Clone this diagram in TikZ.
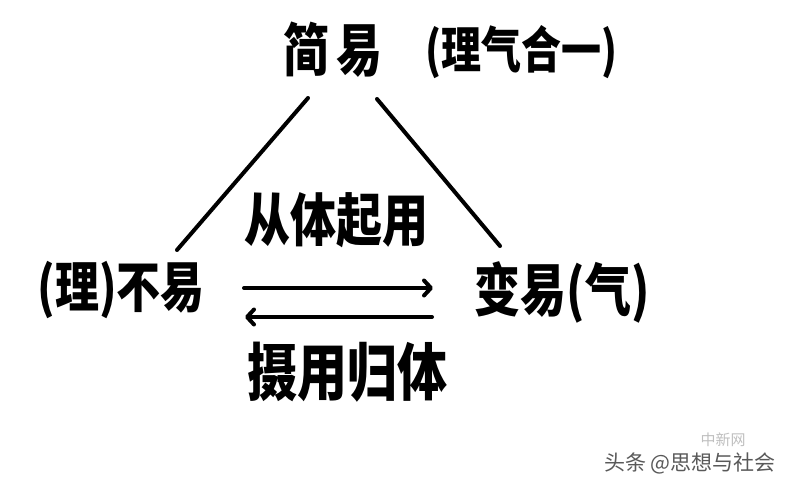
\documentclass[tikz,border=0pt]{standalone}
\usepackage{fontspec}
\newfontfamily\cjk{Noto Sans CJK SC}
\usetikzlibrary{arrows.meta}

\newcommand{\tallchars}[1]{\scalebox{1}[1.25]{#1}}

\begin{document}
\begin{tikzpicture}[x=1pt, y=-1pt,
    stroke/.style={draw, line width=4pt, line cap=round},
    hand/.style={inner sep=0pt, font=\cjk\bfseries},
    wmark/.style={inner sep=0pt, font=\cjk\fontsize{21}{21}\selectfont, text=black!65}]

    \useasboundingbox[fill=white] (0,0) rectangle (789,489);

    % top
    \node[hand, font=\cjk\bfseries\fontsize{46}{46}\selectfont] (jianyi) at (333,50) {\tallchars{简\,易}};
    \node[hand, font=\cjk\bfseries\fontsize{40}{40}\selectfont] (liqi) at (521,52) {\tallchars{(理气合一)}};

    % left and right
    \node[hand, font=\cjk\bfseries\fontsize{44}{44}\selectfont] (buyi) at (121,290) {\tallchars{(理)不易}};
    \node[hand, font=\cjk\bfseries\fontsize{46}{46}\selectfont] (bianyi) at (562,292) {\tallchars{变易(气)}};

    % middle labels
    \node[hand, font=\cjk\bfseries\fontsize{46}{46}\selectfont] (qiyong) at (336,220) {\tallchars{从体起用}};
    \node[hand, font=\cjk\bfseries\fontsize{50}{50}\selectfont] (guiti) at (347,372) {\tallchars{摄用归体}};

    \coordinate (l1) at (308,98);
    \coordinate (l2) at (177,250);
    \coordinate (r1) at (377,99);
    \coordinate (r2) at (500,246);
    \path[stroke] (l1) -- (l2);
    \path[stroke] (r1) -- (r2);

    \coordinate (a1) at (244,288);
    \coordinate (a2) at (433,288);
    \coordinate (b1) at (432,317);
    \coordinate (b2) at (245,317);
    \path[stroke, -{Straight Barb[length=7pt,width=15pt,round]}] (a1) -- (a2);
    \path[stroke, -{Straight Barb[length=7pt,width=15pt,round]}] (b1) -- (b2);

    % watermark
    \node[wmark, text=black!25, font=\cjk\fontsize{15}{15}\selectfont] (zxw) at (723,440) {中新网};
    \node[wmark, anchor=east] (toutiao) at (776,463) {头条 @思想与社会};

\end{tikzpicture}
\end{document}
